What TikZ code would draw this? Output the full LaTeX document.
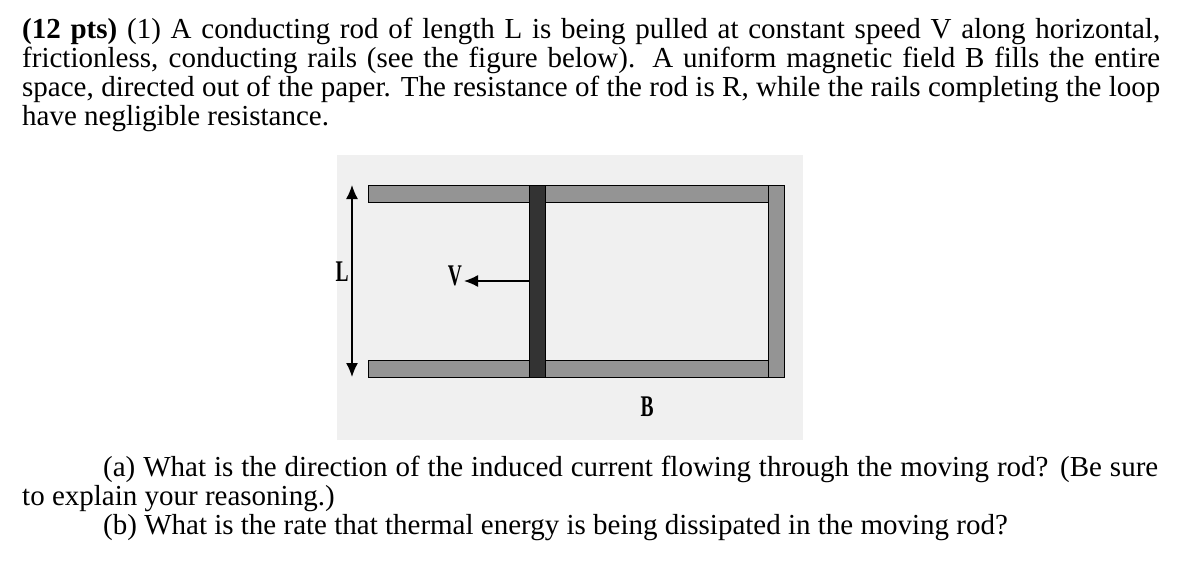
\documentclass[tikz,border=0pt]{standalone}
\usepackage{fontspec}
\setmainfont{Liberation Serif}
\usetikzlibrary{arrows.meta}
\begin{document}
\begin{tikzpicture}[x=1pt,y=-1pt,
  txt/.style={anchor=base west,inner sep=0pt,font=\fontsize{29}{29}\selectfont},
  rail/.style={fill=black!42,draw=black,line width=0.8pt},
  rod/.style={fill=black!80,draw=black,line width=0.8pt},
  lbl/.style={inner sep=0pt,xscale=0.65,font=\fontsize{30}{30}\selectfont\bfseries},
  tip/.tip={Latex[length=14pt,width=12pt]},
  arr/.style={-tip,line width=1.4pt}]
\useasboundingbox[fill=white] (0,0) rectangle (1200,571);
\node[txt] (l1) at (22,38) {\makebox[1138pt][s]{\textbf{(12 pts)} (1) A conducting rod of length L is being pulled at constant speed V along horizontal,}};
\node[txt] (l2) at (22,67) {\makebox[1138pt][s]{frictionless, conducting rails (see the figure below). A uniform magnetic field B fills the entire}};
\node[txt] (l3) at (22,96) {\makebox[1138pt][s]{space, directed out of the paper. The resistance of the rod is R, while the rails completing the loop}};
\node[txt] (l4) at (22,125) {have negligible resistance.};
\fill[black!6] (337,155) rectangle (803,440);
\draw[rail] (368,185) rectangle (783,202);
\draw[rail] (368,360) rectangle (783,377);
\draw[rail] (768,185) rectangle (784,377);
\draw[rod] (529,185) rectangle (545,377);
\coordinate (lt) at (352,185);
\coordinate (lb) at (352,377);
\draw[tip-tip,line width=1.4pt] (lt) -- (lb);
\node[lbl] (L) at (342,272) {L};
\coordinate (vs) at (529,281);
\coordinate (ve) at (464,281);
\node[lbl] (V) at (455,276) {V};
\draw[arr] (vs) -- (ve);
\node[lbl] (B) at (647,407) {B};
\node[txt] (a1) at (103,476) {\makebox[1055pt][s]{(a) What is the direction of the induced current flowing through the moving rod? (Be sure}};
\node[txt] (a2) at (22,505) {to explain your reasoning.)};
\node[txt] (b1) at (103,534) {(b) What is the rate that thermal energy is being dissipated in the moving rod?};
\end{tikzpicture}
\end{document}
